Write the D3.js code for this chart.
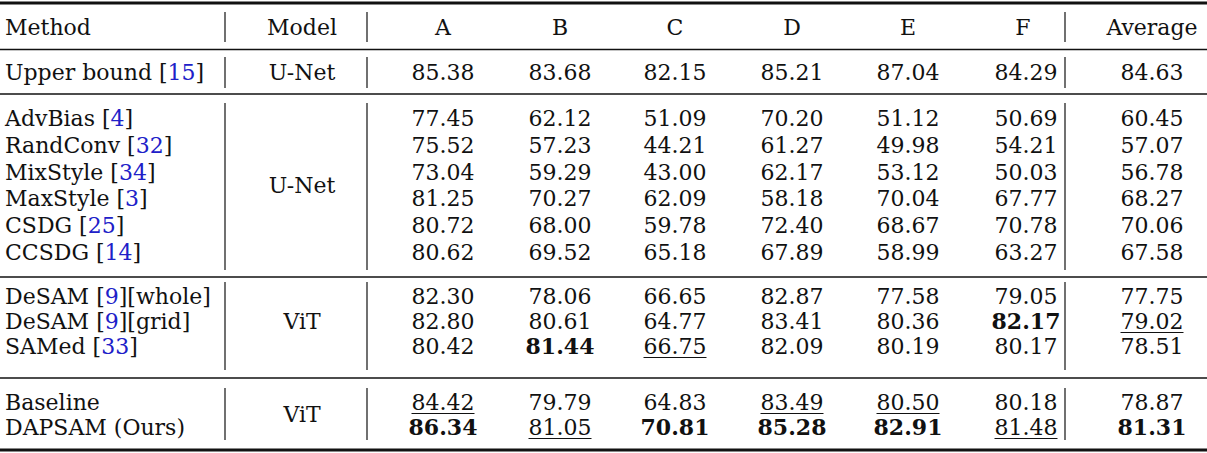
<!DOCTYPE html>
<html><head><meta charset="utf-8">
<script src="https://cdn.jsdelivr.net/npm/d3@7"></script>
<style>body{margin:0;background:#fff}svg{display:block}text{font-family:"DejaVu Serif",serif;font-size:22px;fill:#111}</style>
</head><body><svg id="c" width="1207" height="453"></svg>
<script>
const columns = ["A","B","C","D","E","F"];
const headers = ["Method","Model"].concat(columns).concat(["Average"]);
const methods = ["Upper bound","AdvBias","RandConv","MixStyle","MaxStyle","CSDG","CCSDG","DeSAM","DeSAM","SAMed","Baseline","DAPSAM (Ours)"];
const citations = ["15","4","32","34","3","25","14","9","9","33","",""];
const suffixes = ["","","","","","","","[whole]","[grid]","","",""];
const groups = [0,1,1,1,1,1,1,2,2,2,3,3];
const groupModels = ["U-Net","U-Net","ViT","ViT"];
const values = [
 [85.38,83.68,82.15,85.21,87.04,84.29,84.63],
 [77.45,62.12,51.09,70.20,51.12,50.69,60.45],
 [75.52,57.23,44.21,61.27,49.98,54.21,57.07],
 [73.04,59.29,43.00,62.17,53.12,50.03,56.78],
 [81.25,70.27,62.09,58.18,70.04,67.77,68.27],
 [80.72,68.00,59.78,72.40,68.67,70.78,70.06],
 [80.62,69.52,65.18,67.89,58.99,63.27,67.58],
 [82.30,78.06,66.65,82.87,77.58,79.05,77.75],
 [82.80,80.61,64.77,83.41,80.36,82.17,79.02],
 [80.42,81.44,66.75,82.09,80.19,80.17,78.51],
 [84.42,79.79,64.83,83.49,80.50,80.18,78.87],
 [86.34,81.05,70.81,85.28,82.91,81.48,81.31]];
// formatting marks: "b" bold, "u" underline
const marks = [
 ["","","","","","",""],["","","","","","",""],["","","","","","",""],["","","","","","",""],
 ["","","","","","",""],["","","","","","",""],["","","","","","",""],
 ["","","","","","",""],["","","","","","b","u"],["","b","u","","","",""],
 ["u","","","u","u","",""],["b","u","b","b","b","u","b"]];

const svg = d3.select("#c");
const rowY = [72,118,145,172,198,225,252,296,321,346,402,427];
const headerY = 27;
const rules = [{y:3,w:3},{y:49.5,w:1.3},{y:94,w:1.3},{y:277,w:1.3},{y:378,w:1.3},{y:450,w:3}];
rules.forEach(r=>svg.append("line").attr("x1",0).attr("x2",1207).attr("y1",r.y).attr("y2",r.y).attr("stroke","#111").attr("stroke-width",r.w));

const colX = d3.scaleOrdinal().domain(columns.concat(["Average"])).range([443,560,675,792,908,1026,1152]);
const bars = [225,367,1065];
const off = 7.5;

svg.append("text").attr("x",5).attr("y",headerY+off).text(headers[0]);
svg.append("text").attr("x",302).attr("y",headerY+off).attr("text-anchor","middle").text(headers[1]);
headers.slice(2).forEach(h=>svg.append("text").attr("x",h==="F"?1023:colX(h)).attr("y",headerY+off).attr("text-anchor","middle").text(h));
const sections = [{y0:12,y1:42},{y0:57,y1:88}, {y0:103,y1:270},{y0:282,y1:370},{y0:388,y1:440}];
sections.forEach(s=>bars.forEach(x=>svg.append("line").attr("x1",x).attr("x2",x).attr("y1",s.y0).attr("y2",s.y1).attr("stroke","#111").attr("stroke-width",1.2)));

methods.forEach((m,i)=>{
  const t = svg.append("text").attr("x",5).attr("y",rowY[i]+off);
  t.append("tspan").text(m + (citations[i]?" [":""));
  if(citations[i]){ t.append("tspan").style("fill","#2020c8").text(citations[i]); t.append("tspan").text("]"); }
  if(suffixes[i]) t.append("tspan").text(suffixes[i]);
  const cols = columns.concat(["Average"]);
  values[i].forEach((v,j)=>{
    const mk = marks[i][j];
    const vt = svg.append("text").attr("x",colX(cols[j])).attr("y",rowY[i]+off).attr("text-anchor","middle")
      .attr("font-weight",mk==="b"?"bold":"normal").text(d3.format(".2f")(v));
    if(mk==="u"){
      const bb = vt.node().getBBox();
      svg.append("line").attr("x1",bb.x).attr("x2",bb.x+bb.width).attr("y1",rowY[i]+off+4).attr("y2",rowY[i]+off+4).attr("stroke","#111").attr("stroke-width",1.2);
    }
  });
});
groupModels.forEach((g,k)=>{
  const ys = rowY.filter((_,i)=>groups[i]===k);
  svg.append("text").attr("x",302).attr("y",d3.mean(ys)+off).attr("text-anchor","middle").text(g);
});
</script></body></html>
